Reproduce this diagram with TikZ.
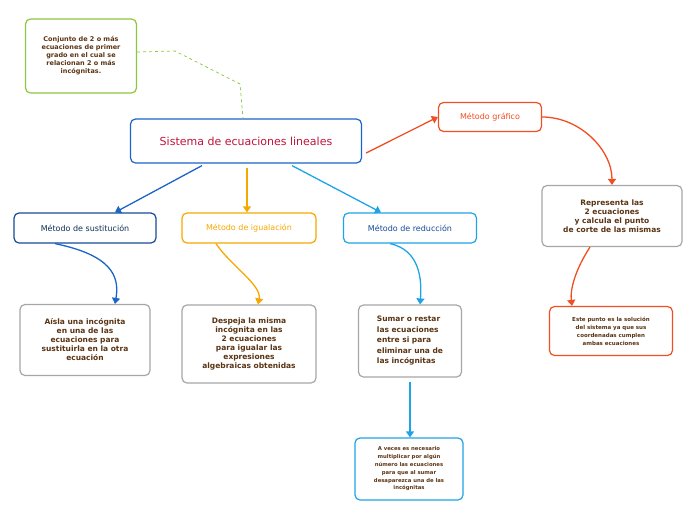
\documentclass[tikz,border=0pt]{standalone}
\usepackage{fontspec}
\setmainfont{DejaVu Sans}
\usetikzlibrary{arrows.meta}
\definecolor{brn}{HTML}{5A3413}
\definecolor{gr}{HTML}{8DC63F}
\definecolor{bl}{HTML}{1B64C8}
\definecolor{dbl}{HTML}{164B9A}
\definecolor{lbl}{HTML}{1EA4E6}
\definecolor{org}{HTML}{F5A800}
\definecolor{red2}{HTML}{F04E23}
\definecolor{crim}{HTML}{C0143C}
\definecolor{navy}{HTML}{0F3057}
\begin{document}
\begin{tikzpicture}[x=1pt,y=-1pt,
 box/.style={draw,line width=1.2pt,rounded corners=5pt,fill=white,align=center,inner sep=2pt,text=brn,font=\bfseries},
 gbox/.style={box,draw=gray!70},
 arr/.style={line width=1.3pt,-{Triangle[width=8pt,length=6pt]}}]
\useasboundingbox (0,0) rectangle (696,520);
\node[box,draw=gr,minimum width=111pt,minimum height=74pt,font=\bfseries\fontsize{6.5}{8}\selectfont] (note) at (81,56) {Conjunto de 2 o más\\ecuaciones de primer\\grado en el cual se\\relacionan 2 o más\\incógnitas.};
\node[box,draw=bl,minimum width=231pt,minimum height=44pt,text=crim,font=\fontsize{11}{13}\selectfont\rmfamily] (main) at (246,141) {\textsc{Sistema de ecuaciones lineales}};
\node[box,draw=red2,text=red2,minimum width=103pt,minimum height=29pt,font=\fontsize{8}{10}\selectfont] (graf) at (490,117) {Método gráfico};
\node[box,draw=dbl,text=navy,minimum width=142pt,minimum height=30pt,font=\fontsize{8}{10}\selectfont] (sust) at (85,228) {Método de sustitución};
\node[box,draw=org,text=org,minimum width=134pt,minimum height=30pt,font=\fontsize{8}{10}\selectfont] (igual) at (249,228) {Método de igualación};
\node[box,draw=lbl,text=dbl,minimum width=133pt,minimum height=30pt,font=\fontsize{8}{10}\selectfont] (red) at (410,228) {Método de reducción};
\node[gbox,minimum width=140pt,minimum height=61pt,font=\bfseries\fontsize{7.5}{9}\selectfont] (rep) at (612,216) {Representa las\\2 ecuaciones\\y calcula el punto\\de corte de las mismas};
\node[gbox,minimum width=130pt,minimum height=71pt,font=\bfseries\fontsize{7.5}{9}\selectfont] (aisla) at (85,340) {Aísla una incógnita\\en una de las\\ecuaciones para\\sustituirla en la otra\\ecuación};
\node[gbox,minimum width=134pt,minimum height=78pt,font=\bfseries\fontsize{7.5}{9}\selectfont] (desp) at (249,344) {Despeja la misma\\incógnita en las\\2 ecuaciones\\para igualar las\\expresiones\\algebraicas obtenidas};
\node[gbox,minimum width=103pt,minimum height=72pt,align=left,font=\bfseries\fontsize{7.5}{10.5}\selectfont] (sum) at (410,341) {Sumar o restar\\las ecuaciones\\entre si para\\eliminar una de\\las incógnitas};
\node[box,draw=red2,minimum width=123pt,minimum height=49pt,font=\bfseries\fontsize{5.5}{8}\selectfont] (este) at (611,331) {Este punto es la solución\\del sistema ya que sus\\coordenadas cumplen\\ambas ecuaciones};
\node[box,draw=lbl,minimum width=108pt,minimum height=62pt,font=\bfseries\fontsize{5.3}{7.8}\selectfont] (veces) at (409,469) {A veces es necesario\\multiplicar por algún\\número las ecuaciones\\para que al sumar\\desaparezca una de las\\incógnitas};
\coordinate (d1) at (175,51); \coordinate (d2) at (240,84);
\draw[gr,dashed,line width=0.7pt] (note.east|-0,52) -- (d1) -- (d2) -- (main.north-|243,0);
\draw[arr,red2] ([xshift=4pt,yshift=-12pt]main.east) -- (graf.west);
\draw[arr,red2] (graf.east) .. controls (580,117) and (612,150) .. (rep.north);
\draw[arr,red2] (rep.south-|590,0) .. controls (575,270) and (570,290) .. (este.north-|572,0);
\draw[arr,bl] (main.south-|202,0) ++(0,2) -- (sust.north-|115,0);
\draw[arr,org] (main.south-|247,0) ++(0,4) -- (igual.north-|247,0);
\draw[arr,lbl] (main.south-|292,0) ++(0,2) -- (red.north-|381,0);
\draw[arr,bl] (sust.south-|55,0) .. controls (110,255) and (120,275) .. (aisla.north-|115,0);
\draw[arr,org] (igual.south-|216,0) .. controls (230,265) and (262,285) .. (desp.north-|258,0);
\draw[arr,lbl] (red.south-|390,0) .. controls (420,250) and (422,280) .. (sum.north-|420,0);
\draw[arr,lbl] (sum.south-|410,0) ++(0,4) -- (veces.north-|410,0);
\end{tikzpicture}
\end{document}
